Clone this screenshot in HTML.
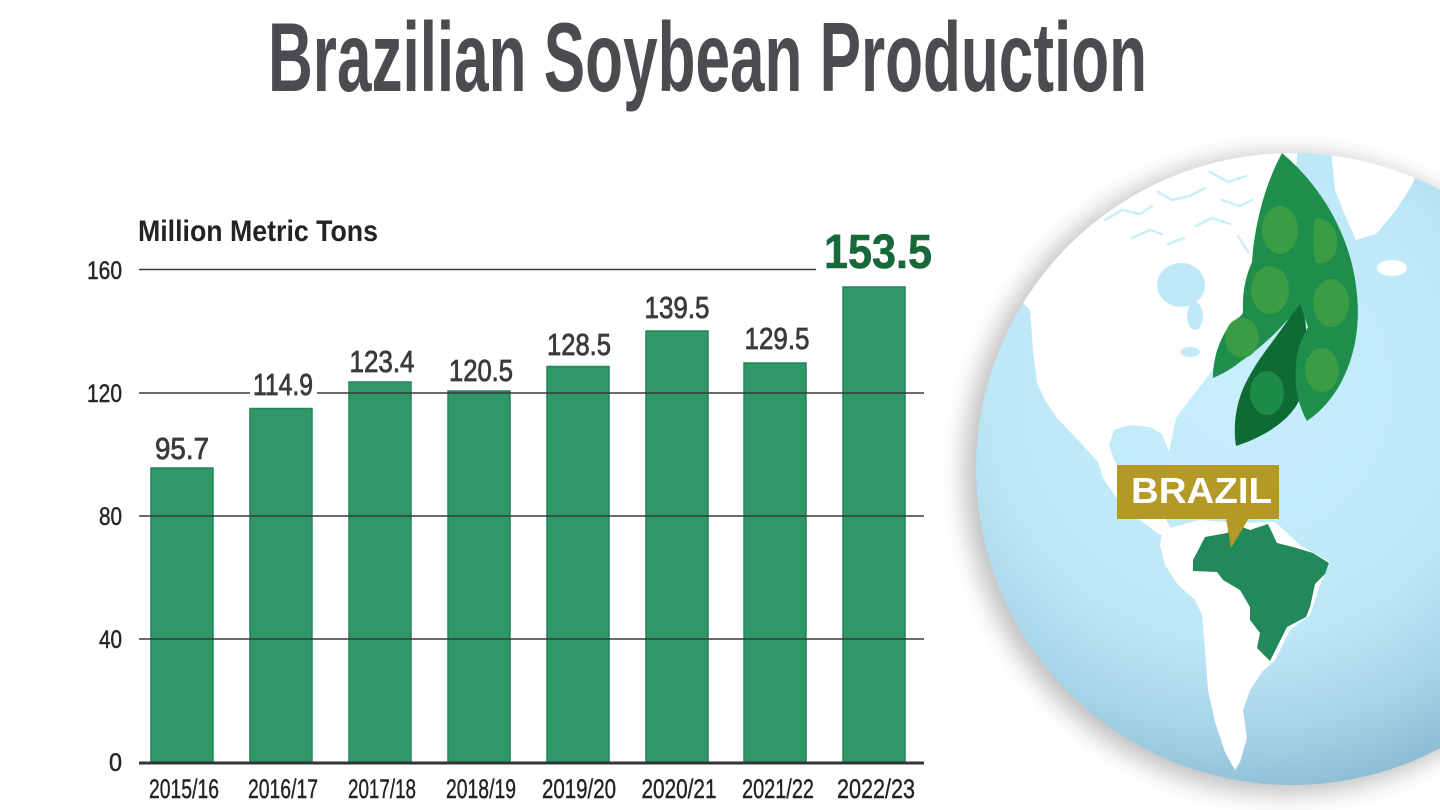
<!DOCTYPE html>
<html>
<head>
<meta charset="utf-8">
<style>
  html,body{margin:0;padding:0;background:#fff;}
  svg{display:block;}
  text{font-family:"Liberation Sans", sans-serif;}
</style>
</head>
<body>
<svg width="1440" height="810" viewBox="0 0 1440 810" xmlns="http://www.w3.org/2000/svg">
  <defs>
    <filter id="sh" x="-30%" y="-30%" width="160%" height="160%">
      <feGaussianBlur stdDeviation="12"/>
    </filter>
    <radialGradient id="ocean" gradientUnits="userSpaceOnUse" cx="1240" cy="390" r="410">
      <stop offset="0" stop-color="#c8eefc"/>
      <stop offset="0.6" stop-color="#bde8f8"/>
      <stop offset="0.82" stop-color="#a9d5e9"/>
      <stop offset="1" stop-color="#8cbdd4"/>
    </radialGradient>
    <clipPath id="globeClip">
      <circle cx="1292" cy="469" r="316"/>
    </clipPath>
  </defs>

  <!-- Title -->
  <text x="268" y="91" font-size="98" font-weight="bold" fill="#4b4b50" textLength="879" lengthAdjust="spacingAndGlyphs">Brazilian Soybean Production</text>

  <!-- Axis title -->
  <text x="138" y="241" font-size="30" font-weight="bold" fill="#232323" textLength="240" lengthAdjust="spacingAndGlyphs">Million Metric Tons</text>

  <!-- Bars -->
  <g fill="#2f9768" stroke="#23845a" stroke-width="1.5">
    <rect x="151" y="468" width="62" height="295"/>
    <rect x="250" y="408.5" width="62" height="354.5"/>
    <rect x="349" y="382" width="62" height="381"/>
    <rect x="448" y="391" width="62" height="372"/>
    <rect x="547" y="366.5" width="62" height="396.5"/>
    <rect x="646" y="331" width="62" height="432"/>
    <rect x="744" y="363" width="62" height="400"/>
    <rect x="843" y="287" width="62" height="476"/>
  </g>

  <!-- Gridlines -->
  <g stroke="#3a3a3a" stroke-width="1.6">
    <line x1="139" y1="269.5" x2="816" y2="269.5"/>
    <line x1="139" y1="393" x2="250" y2="393"/>
    <line x1="317" y1="393" x2="924" y2="393"/>
    <line x1="139" y1="516" x2="924" y2="516"/>
    <line x1="139" y1="639" x2="924" y2="639"/>
  </g>
  <line x1="139" y1="763" x2="924" y2="763" stroke="#333" stroke-width="3"/>

  <!-- Y tick labels -->
  <g font-size="25" fill="#262626" stroke="#262626" stroke-width="0.5" text-anchor="end">
    <text x="122" y="279" textLength="35" lengthAdjust="spacingAndGlyphs">160</text>
    <text x="122" y="402" textLength="35" lengthAdjust="spacingAndGlyphs">120</text>
    <text x="122" y="525" textLength="23" lengthAdjust="spacingAndGlyphs">80</text>
    <text x="122" y="648" textLength="23" lengthAdjust="spacingAndGlyphs">40</text>
    <text x="122" y="771" textLength="13" lengthAdjust="spacingAndGlyphs">0</text>
  </g>

  <!-- X labels -->
  <g font-size="27" fill="#222" stroke="#222" stroke-width="0.4" text-anchor="middle">
    <text x="184" y="798" textLength="70" lengthAdjust="spacingAndGlyphs">2015/16</text>
    <text x="283" y="798" textLength="70" lengthAdjust="spacingAndGlyphs">2016/17</text>
    <text x="382" y="798" textLength="68" lengthAdjust="spacingAndGlyphs">2017/18</text>
    <text x="481" y="798" textLength="70" lengthAdjust="spacingAndGlyphs">2018/19</text>
    <text x="579" y="798" textLength="74" lengthAdjust="spacingAndGlyphs">2019/20</text>
    <text x="679" y="798" textLength="75" lengthAdjust="spacingAndGlyphs">2020/21</text>
    <text x="778" y="798" textLength="72" lengthAdjust="spacingAndGlyphs">2021/22</text>
    <text x="876" y="798" textLength="78" lengthAdjust="spacingAndGlyphs">2022/23</text>
  </g>

  <!-- Value labels -->
  <g font-size="31" fill="#3a3a3f" stroke="#3a3a3f" stroke-width="0.8" text-anchor="middle">
    <text x="182" y="459" textLength="54" lengthAdjust="spacingAndGlyphs">95.7</text>
    <text x="283" y="395" textLength="60" lengthAdjust="spacingAndGlyphs">114.9</text>
    <text x="382" y="372" textLength="65" lengthAdjust="spacingAndGlyphs">123.4</text>
    <text x="481" y="381" textLength="64" lengthAdjust="spacingAndGlyphs">120.5</text>
    <text x="579" y="355" textLength="64" lengthAdjust="spacingAndGlyphs">128.5</text>
    <text x="677" y="318" textLength="65" lengthAdjust="spacingAndGlyphs">139.5</text>
    <text x="777" y="349" textLength="65" lengthAdjust="spacingAndGlyphs">129.5</text>
  </g>
  <text x="878" y="268" font-size="48" font-weight="bold" fill="#17693a" stroke="#17693a" stroke-width="0.6" text-anchor="middle" textLength="108" lengthAdjust="spacingAndGlyphs">153.5</text>

  <!-- Globe shadow -->
  <circle cx="1284" cy="474" r="320" fill="#8c8c8c" opacity="0.55" filter="url(#sh)"/>
  <!-- Globe -->
  <circle cx="1292" cy="469" r="316" fill="url(#ocean)"/>

  <g clip-path="url(#globeClip)">
    <!-- North America -->
    <polygon fill="#ffffff" points="960,120 1300,120 1290,240 1265,300 1245,325 1225,350 1217,363 1203,383 1187,403 1176,418 1173,432 1169,452 1162,434 1150,427 1130,425 1114,430 1109,445 1115,462 1130,480 1150,498 1165,518 1172,530 1160,535 1140,520 1118,500 1103,478 1098,462 1080,442 1057,418 1045,400 1037,383 1033,350 1030,310 1010,290 960,285"/>
    <!-- Hudson Bay, James Bay, lakes -->
    <ellipse cx="1181" cy="285" rx="24" ry="22" fill="#bfe9f9"/>
    <ellipse cx="1195" cy="316" rx="8" ry="14" fill="#bfe9f9"/>
    <ellipse cx="1190" cy="352" rx="10" ry="5" fill="#c3eafa"/>
    <!-- arctic channels -->
    <g stroke="#c9eefc" stroke-width="2.5" fill="none" stroke-linecap="round">
      <polyline points="1105,220 1122,210 1140,214 1152,206"/>
      <polyline points="1158,192 1172,200 1190,196 1205,188"/>
      <polyline points="1196,226 1212,218 1230,224"/>
      <polyline points="1210,172 1228,182 1246,176"/>
      <polyline points="1132,238 1150,230 1162,234"/>
      <polyline points="1238,236 1248,252"/>
      <polyline points="1120,196 1135,186"/>
      <polyline points="1180,172 1196,166"/>
      <polyline points="1168,244 1184,238"/>
      <polyline points="1222,200 1240,206 1252,200"/>
    </g>
    <!-- Greenland -->
    <polygon fill="#ffffff" points="1330,140 1430,140 1412,185 1396,210 1376,234 1356,240 1345,215 1335,190"/>
    <!-- Iceland -->
    <ellipse cx="1392" cy="268" rx="15" ry="8" fill="#ffffff"/>
    <!-- South America -->
    <polygon fill="#ffffff" points="1163,530 1200,520 1240,523 1275,522 1300,545 1330,562 1320,585 1310,615 1290,630 1275,660 1262,672 1250,690 1243,710 1247,738 1240,762 1235,770 1225,752 1215,722 1208,690 1205,650 1202,615 1195,600 1178,585 1165,565 1160,545"/>
    <!-- Brazil -->
    <polygon fill="#21895a" points="1193,560 1205,537 1227,533 1237,525 1250,530 1268,524 1277,543 1293,547 1313,553 1329,563 1325,574 1315,584 1310,607 1306,617 1287,627 1280,641 1270,661 1257,648 1260,633 1250,620 1250,607 1240,590 1223,580 1217,572 1193,571"/>
  </g>

  <!-- Brazil label -->
  <rect x="1117" y="465" width="162" height="54" fill="#b39a26"/>
  <polygon points="1226,518 1249,518 1231,548" fill="#b39a26"/>
  <text x="1131" y="503" font-size="36" font-weight="bold" fill="#ffffff" textLength="141" lengthAdjust="spacingAndGlyphs">BRAZIL</text>

  <!-- Soybean pods -->
  <path fill="#0e6b33" d="M1300,300 C1312,330 1304,370 1300,398 C1292,420 1262,438 1236,446 C1232,420 1238,395 1250,375 C1262,352 1284,330 1300,300 Z"/>
  <ellipse cx="1267" cy="393" rx="17" ry="22" fill="#1d8b47"/>
  <path fill="#1f8d4b" d="M1282,153 C1320,185 1352,235 1357,295 C1362,345 1345,395 1307,421 C1298,405 1294,385 1296,365 C1297,350 1302,337 1308,327 L1300,304 C1285,325 1265,345 1240,362 C1230,370 1222,374 1213,378 C1213,360 1218,340 1232,322 C1238,318 1242,316 1243,312 C1242,292 1246,275 1252,262 C1254,232 1262,190 1282,153 Z"/>
  <g fill="#3a9c45">
    <ellipse cx="1280" cy="230" rx="18" ry="24"/>
    <path d="M1316,218 C1330,218 1338,230 1337,244 C1336,258 1328,265 1316,263 C1312,248 1312,232 1316,218 Z"/>
    <ellipse cx="1270" cy="290" rx="19" ry="24"/>
    <ellipse cx="1331" cy="303" rx="18" ry="24"/>
    <ellipse cx="1242" cy="338" rx="17" ry="20"/>
    <ellipse cx="1322" cy="370" rx="17" ry="22"/>
  </g>
</svg>
</body>
</html>
